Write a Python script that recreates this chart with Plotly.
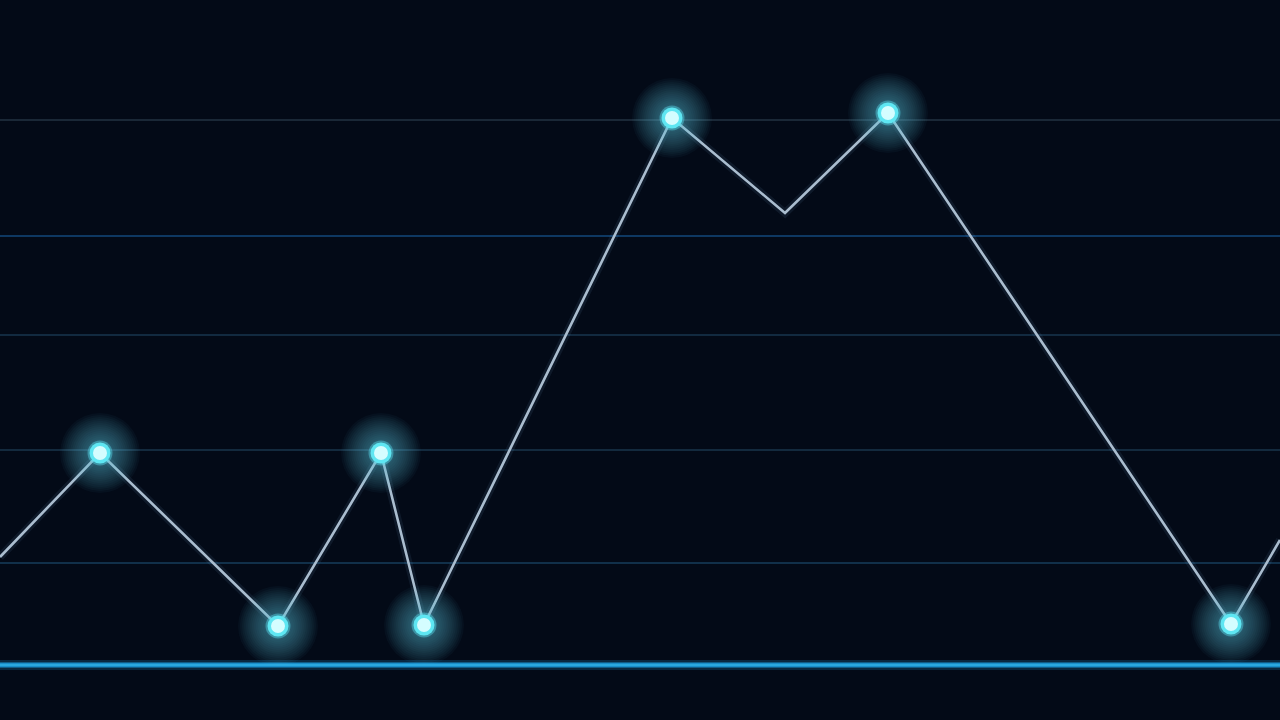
import plotly.graph_objects as go

# Data (x in time units, y in value units above the baseline)
x_vals = [0, 100, 278, 381, 424, 672, 785, 888, 1231, 1280]
y_vals = [108, 212, 39, 212, 40, 547, 452, 552, 41, 125]
marker_x = [100, 278, 381, 424, 672, 888, 1231]
marker_y = [212, 39, 212, 40, 547, 552, 41]

grid_levels = [102, 215, 330, 429, 545]
grid_colors = ["#11304a", "#132a3e", "#122a40", "#0e3862", "#1a2837"]
baseline = 0

fig = go.Figure()

# line glow
fig.add_trace(go.Scatter(x=x_vals, y=y_vals, mode="lines",
                         line=dict(color="rgba(150,210,255,0.08)", width=8),
                         hoverinfo="skip", showlegend=False))
fig.add_trace(go.Scatter(x=x_vals, y=y_vals, mode="lines",
                         line=dict(color="#aabdcf", width=2.6),
                         hoverinfo="skip", showlegend=False))

# marker glow layers (soft)
for size in range(80, 22, -4):
    fig.add_trace(go.Scatter(x=marker_x, y=marker_y, mode="markers",
                             marker=dict(size=size, color="rgba(110,210,240,0.04)",
                                         line=dict(width=0)),
                             hoverinfo="skip", showlegend=False))
fig.add_trace(go.Scatter(x=marker_x, y=marker_y, mode="markers",
                         marker=dict(size=25, color="rgba(90,230,245,0.4)", line=dict(width=0)),
                         hoverinfo="skip", showlegend=False))
fig.add_trace(go.Scatter(x=marker_x, y=marker_y, mode="markers",
                         marker=dict(size=21, color="#5ee6f2", line=dict(width=0)),
                         hoverinfo="skip", showlegend=False))
fig.add_trace(go.Scatter(x=marker_x, y=marker_y, mode="markers",
                         marker=dict(size=14, color="#d4fdff", line=dict(width=0)),
                         hoverinfo="skip", showlegend=False))

shapes = []
for lvl, col in zip(grid_levels, grid_colors):
    shapes.append(dict(type="line", xref="paper", x0=0, x1=1, yref="y", y0=lvl, y1=lvl,
                       line=dict(color=col, width=2), layer="below"))
shapes.append(dict(type="line", xref="paper", x0=0, x1=1, yref="y", y0=baseline, y1=baseline,
                   line=dict(color="rgba(30,150,220,0.22)", width=10), layer="below"))
shapes.append(dict(type="line", xref="paper", x0=0, x1=1, yref="y", y0=baseline, y1=baseline,
                   line=dict(color="#1a8fcc", width=5), layer="below"))
shapes.append(dict(type="line", xref="paper", x0=0, x1=1, yref="y", y0=baseline, y1=baseline,
                   line=dict(color="#2aa8e0", width=2), layer="below"))

fig.update_layout(
    width=1280, height=720,
    margin=dict(l=0, r=0, t=0, b=0),
    paper_bgcolor="#030a17", plot_bgcolor="#030a17",
    xaxis=dict(range=[0, 1280], visible=False, fixedrange=True),
    yaxis=dict(range=[-55, 665], visible=False, fixedrange=True),
    shapes=shapes, showlegend=False,
)

fig.write_html("out.html", config={"displayModeBar": False},
               post_script="document.body.style.margin='0';document.body.style.background='#030a17';")
